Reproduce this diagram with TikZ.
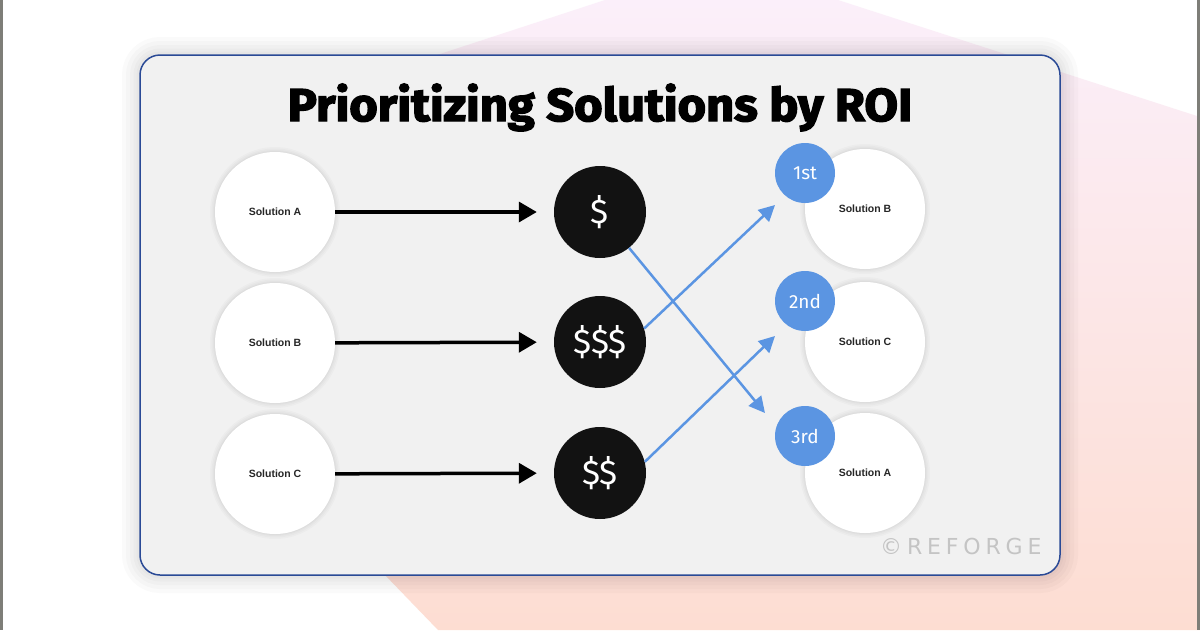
\documentclass[tikz,border=0pt]{standalone}
\usepackage{fontspec}
\setmainfont{Liberation Sans}
\newfontfamily\titlefont{Fira Sans}[BoldFeatures={FakeBold=3}, FakeStretch=1.06]
\newfontfamily\dollarfont{Fira Sans}
\newfontfamily\badgefont{Fira Sans}
\newfontfamily\markfont{DejaVu Sans}[LetterSpace=22]
\usetikzlibrary{arrows.meta}
\definecolor{cardfill}{HTML}{F1F1F1}
\definecolor{cardline}{HTML}{2A4A96}
\definecolor{blueb}{HTML}{5B95E2}
\definecolor{lav}{HTML}{FBEFFA}
\definecolor{peach}{HTML}{FDDDD2}
\definecolor{edgegray}{HTML}{7E7E78}
\definecolor{markgray}{HTML}{C4C4C4}
\tikzset{
  softring/.style={preaction={draw=black, draw opacity=0.018, line width=#1}},
  cardbox/.style={draw=cardline, line width=1.5pt, fill=cardfill, rounded corners=20pt,
    minimum width=920pt, minimum height=520pt, inner sep=0pt,
    softring=36pt, softring=28pt, softring=20pt, softring=13pt, softring=7pt},
  solnode/.style={circle, fill=white, minimum size=120pt, inner sep=0pt,
    font=\bfseries\fontsize{10.5}{12}\selectfont, text=black!85,
    softring=10pt, softring=7pt, softring=4pt, softring=2pt},
  costnode/.style={circle, fill=black!93, minimum size=92pt, inner sep=0pt, text=white,
    font=\dollarfont\fontsize{34}{34}\selectfont},
  badge/.style={circle, fill=blueb, minimum size=60pt, inner sep=0pt, text=white,
    font=\badgefont\fontsize{19}{19}\selectfont},
  blackarrow/.style={line width=3.5pt, -{Triangle[length=18pt,width=20pt]}, shorten >=17pt},
  bluearrow/.style={draw=blueb, line width=2.5pt, -{Triangle[length=16pt,width=16pt]}}
}
\begin{document}
\begin{tikzpicture}[x=1pt,y=-1pt]
\useasboundingbox (0,0) rectangle (1200,630);
\fill[white] (0,0) rectangle (1200,630);
\shade[top color=lav, bottom color=peach] (605,0) -- (838,0) -- (1200,117) -- (1200,630) -- (438,630) -- (330,518) -- (330,90) -- cycle;
\fill[edgegray] (0,0) rectangle (3,630);
\fill[edgegray] (1197,0) rectangle (1200,630);

\node[cardbox] (card) at (600,315) {};
\node[anchor=base] (title) at (600,121) {\titlefont\bfseries\fontsize{46}{46}\selectfont Prioritizing Solutions by ROI};

\node[solnode] (l1) at (275,212) {Solution A};
\node[solnode] (l2) at (275,343) {Solution B};
\node[solnode] (l3) at (275,474) {Solution C};

\node[costnode] (c1) at (600,212) {\$};
\node[costnode] (c2) at (600,342) {\$\$\$};
\node[costnode] (c3) at (600,473) {\$\$};

\node[solnode] (r1) at (865,209) {Solution B};
\node[solnode] (r2) at (865,342) {Solution C};
\node[solnode] (r3) at (865,473) {Solution A};

\node[badge] (b1) at (805,173) {1st};
\node[badge] (b2) at (805,301) {2nd};
\node[badge] (b3) at (805,436) {3rd};

\coordinate (t1) at (775,205);
\coordinate (t2) at (775,336);
\coordinate (t3) at (765,413);

\draw[blackarrow] (l1) -- (c1);
\draw[blackarrow] (l2) -- (c2);
\draw[blackarrow] (l3) -- (c3);

\draw[bluearrow] (c1.-51) -- (t3);
\draw[bluearrow] (c2.17) -- (t1);
\draw[bluearrow] (c3.14) -- (t2);

\node[anchor=base west, text=markgray, inner sep=0pt] (mark) at (880,554) {\markfont\fontsize{22}{22}\selectfont ©REFORGE};
\end{tikzpicture}
\end{document}
